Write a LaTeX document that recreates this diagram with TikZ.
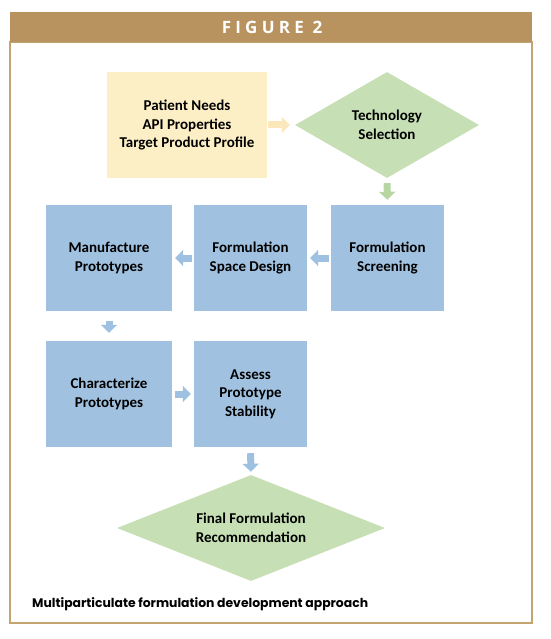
\documentclass[tikz,border=0pt]{standalone}
\usepackage{fontspec}
\setmainfont{Carlito}
\newfontfamily\headfont[LetterSpace=25]{Open Sans}
\newfontfamily\capfont{Poppins}
\usetikzlibrary{shapes.geometric,arrows.meta}
\definecolor{tanhead}{HTML}{B9935F}
\definecolor{tanline}{HTML}{C4A572}
\definecolor{yellowbox}{HTML}{FCEFC6}
\definecolor{greenbox}{HTML}{C6DFB5}
\definecolor{bluebox}{HTML}{A0C2E0}
\definecolor{yellowarr}{HTML}{FCE6BC}
\definecolor{greenarr}{HTML}{B7D6A2}
\definecolor{bluearr}{HTML}{9EC1E2}
\tikzset{
  boxtext/.style={font=\bfseries\fontsize{15}{18.5}\selectfont, align=center, text=black},
  bluebx/.style={boxtext, fill=bluebox, draw=none, inner sep=0pt, minimum height=106pt},
  diam/.style={boxtext, diamond, fill=greenbox, draw=none, inner sep=0pt},
  blockarr/.style={line width=7pt, -{Triangle[length=8pt,width=16pt]}},
}
\begin{document}
\begin{tikzpicture}[x=1pt,y=-1pt]
\useasboundingbox (0,0) rectangle (550,639);
% frame
\draw[tanline, line width=1.5pt] (10,42) rectangle (532,623);
\fill[tanhead] (10,12) rectangle (532,42);
\node[font=\headfont\bfseries\fontsize{17}{20}\selectfont, text=white] (title) at (272,27.5) {FIGURE 2};
% nodes
\node[boxtext, fill=yellowbox, minimum width=160pt, minimum height=106pt, inner sep=0pt] (inputs) at (187,125)
  {Patient Needs\\API Properties\\Target Product Profile};
\node[diam, minimum width=184pt, minimum height=106pt, aspect=1.74] (tech) at (387,125) {Technology\\Selection};
\node[bluebx, minimum width=113pt] (screen) at (387.5,258) {Formulation\\Screening};
\node[bluebx, minimum width=113pt] (space) at (250.5,258) {Formulation\\Space Design};
\node[bluebx, minimum width=126pt] (manuf) at (109,258) {Manufacture\\Prototypes};
\node[bluebx, minimum width=126pt] (charac) at (109,394) {Characterize\\Prototypes};
\node[bluebx, minimum width=113pt] (assess) at (250.5,394) {Assess\\Prototype\\Stability};
\node[diam, minimum width=268pt, minimum height=106pt, aspect=2.53] (final) at (251,528) {Final Formulation\\Recommendation};
% connectors
\draw[blockarr, yellowarr, shorten <=1pt, shorten >=5pt] (inputs.east) -- (tech.west);
\draw[blockarr, greenarr, shorten <=5pt, shorten >=5pt] (tech.south) -- (screen.north);
\draw[blockarr, bluearr, shorten <=2pt, shorten >=3pt] (screen.west) -- (space.east);
\draw[blockarr, bluearr, shorten <=2pt, shorten >=3pt] (space.west) -- (manuf.east);
\draw[blockarr, bluearr, shorten <=10pt, shorten >=8pt] (manuf.south) -- (charac.north);
\draw[blockarr, bluearr, shorten <=3pt, shorten >=3pt] (charac.east) -- (assess.west);
\draw[blockarr, bluearr, shorten <=6pt, shorten >=3pt] (assess.south) -- (final.north);
% caption
\node[anchor=west, font=\capfont\bfseries\fontsize{12.4}{14}\selectfont, inner sep=0pt] (caption) at (32,604)
  {Multiparticulate formulation development approach};
\end{tikzpicture}
\end{document}
